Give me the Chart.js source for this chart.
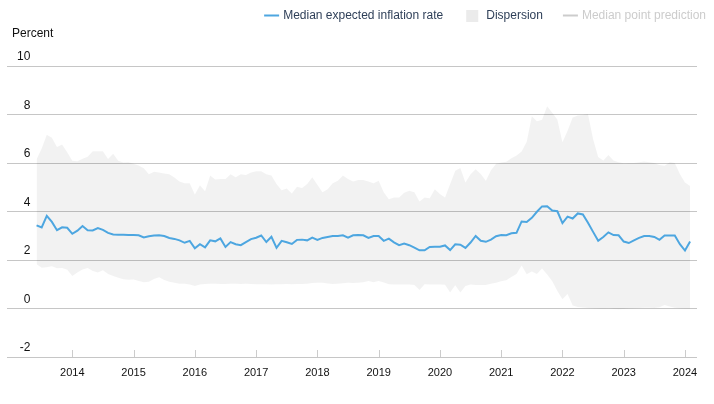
<!DOCTYPE html>
<html>
<head>
<meta charset="utf-8">
<script src="https://cdn.jsdelivr.net/npm/chart.js@4.4.1/dist/chart.umd.min.js"></script>
<style>
  html, body { margin: 0; padding: 0; background: #ffffff; }
  #wrap { width: 714px; height: 404px; }
</style>
</head>
<body>
<div id="wrap"><canvas id="chart" width="714" height="404"></canvas></div>
<script>
// ===== 数据：2013-06 起的月度序列 =====
const startYear = 2013;
const startMonth = 6;

// 中位数预期通胀率
const median = [
  3.43, 3.34, 3.82, 3.57, 3.23, 3.35, 3.33, 3.08, 3.21, 3.40,
  3.23, 3.22, 3.32, 3.24, 3.12, 3.05, 3.04, 3.04, 3.03, 3.03,
  3.02, 2.93, 2.98, 3.01, 3.02, 2.99, 2.91, 2.87, 2.81, 2.71,
  2.79, 2.48, 2.65, 2.52, 2.81, 2.77, 2.89, 2.54, 2.74, 2.65,
  2.61, 2.74, 2.86, 2.92, 3.01, 2.74, 2.96, 2.50, 2.79, 2.73,
  2.66, 2.83, 2.84, 2.81, 2.92, 2.83, 2.91, 2.95, 2.99, 2.99,
  3.02, 2.92, 3.02, 3.03, 3.02, 2.91, 2.99, 2.99, 2.79, 2.88,
  2.73, 2.61, 2.68, 2.61, 2.51, 2.40, 2.40, 2.54, 2.55, 2.55,
  2.60, 2.41, 2.65, 2.63, 2.50, 2.72, 2.99, 2.79, 2.75, 2.84,
  2.98, 3.03, 3.02, 3.10, 3.12, 3.59, 3.57, 3.74, 3.99, 4.21,
  4.22, 4.04, 4.01, 3.52, 3.79, 3.71, 3.92, 3.88, 3.54, 3.16,
  2.79, 2.95, 3.14, 3.03, 3.02, 2.76, 2.70, 2.81, 2.91, 2.99,
  2.99, 2.95, 2.83, 3.01, 3.01, 3.01, 2.65, 2.39, 2.76
];

// 分歧区间：上沿 / 下沿
const dispHigh = [
  6.15, 6.60, 7.17, 7.04, 6.66, 6.76, 6.44, 6.09, 6.07, 6.18,
  6.26, 6.48, 6.48, 6.48, 6.16, 6.38, 6.09, 6.02, 6.03, 5.97,
  5.90, 5.78, 5.54, 5.64, 5.61, 5.57, 5.54, 5.40, 5.24, 5.16,
  5.16, 4.70, 5.08, 4.84, 5.48, 5.32, 5.34, 5.34, 5.54, 5.41,
  5.54, 5.51, 5.61, 5.66, 5.66, 5.54, 5.48, 5.13, 4.88, 4.95,
  4.74, 5.02, 4.97, 5.13, 5.41, 5.10, 4.79, 4.92, 5.16, 5.27,
  5.48, 5.34, 5.24, 5.30, 5.30, 5.24, 5.16, 5.27, 4.79, 4.51,
  4.58, 4.58, 4.77, 4.86, 4.79, 4.41, 4.58, 4.55, 4.92, 4.72,
  4.58, 5.13, 5.68, 5.79, 5.20, 5.54, 5.74, 5.55, 5.27, 5.70,
  5.97, 6.02, 6.05, 6.20, 6.31, 6.47, 6.88, 7.93, 7.72, 7.78,
  8.34, 8.07, 7.79, 6.86, 7.33, 7.88, 7.96, 7.98, 8.02, 6.99,
  6.25, 6.10, 6.33, 6.10, 6.03, 5.99, 6.00, 6.00, 6.03, 6.06,
  6.03, 6.00, 5.92, 5.89, 6.03, 6.00, 5.55, 5.20, 5.05
];

const dispLow = [
  1.82, 1.68, 1.70, 1.74, 1.66, 1.67, 1.60, 1.34, 1.48, 1.61,
  1.67, 1.55, 1.48, 1.58, 1.42, 1.34, 1.27, 1.21, 1.19, 1.20,
  1.13, 1.08, 1.10, 1.22, 1.29, 1.18, 1.10, 1.06, 1.02, 1.02,
  0.99, 0.93, 0.99, 1.01, 1.02, 1.02, 1.01, 1.01, 1.02, 1.02,
  1.01, 1.02, 1.01, 1.00, 1.00, 1.00, 0.99, 1.00, 1.00, 1.01,
  1.00, 1.01, 1.01, 1.02, 1.05, 1.06, 1.06, 1.03, 1.01, 1.02,
  1.04, 1.06, 1.05, 1.06, 1.08, 1.13, 1.08, 1.13, 1.07, 1.00,
  0.99, 0.99, 0.99, 0.99, 0.97, 0.76, 1.00, 0.99, 0.99, 0.99,
  0.98, 0.66, 0.96, 0.66, 0.93, 0.99, 0.97, 0.97, 0.97, 1.02,
  1.06, 1.12, 1.17, 1.30, 1.42, 1.77, 1.41, 1.53, 1.42, 1.65,
  1.40, 1.12, 0.72, 0.38, 0.60, 0.12, 0.06, 0.04, 0.02, 0.01,
  0.00, -0.01, 0.00, -0.02, -0.03, -0.02, 0.00, 0.01, 0.02, 0.03,
  0.03, 0.02, 0.05, 0.14, 0.08, 0.03, 0.01, 0.00, 0.00
];

// 坐标轴刻度
const yearTicks = [2014, 2015, 2016, 2017, 2018, 2019, 2020, 2021, 2022, 2023, 2024];
const yTicks = [-2, 0, 2, 4, 6, 8, 10];

// 月份标签 -> 小数年份
const monthLabels = median.map((_, i) => {
    const m0 = startMonth - 1 + i;
    const y = startYear + Math.floor(m0 / 12);
    const m = (m0 % 12) + 1;
    return `${y}-${String(m).padStart(2, '0')}`;
});
const monthPos = monthLabels.map(s => {
    const [y, m] = s.split('-').map(Number);
    return y + (m - 1) / 12;
});
const toPoints = arr => arr.map((v, i) => ({ x: monthPos[i], y: v }));

const FONT = '"Liberation Sans", Arial, sans-serif';
const LINE_BLUE = '#4da6e0';

// 顶部图例 + "Percent" + x 轴小刻度
const decorPlugin = {
    id: 'decor',
    afterDraw(chart) {
        const ctx = chart.ctx;
        const area = chart.chartArea;
        ctx.save();

        // x 轴刻度线（朝上）
        const xs = chart.scales.x;
        ctx.strokeStyle = '#cccccc';
        ctx.lineWidth = 1;
        xs.ticks.forEach(t => {
            const px = Math.round(xs.getPixelForValue(t.value)) + 0.5;
            ctx.beginPath();
            ctx.moveTo(px, area.bottom - 7);
            ctx.lineTo(px, area.bottom);
            ctx.stroke();
        });

        // 单位
        ctx.font = `12px ${FONT}`;
        ctx.textBaseline = 'middle';
        ctx.fillStyle = '#111111';
        ctx.fillText('Percent', 12, 34);

        // 图例（右对齐）
        const items = chart.data.datasets.filter(d => d.legendShape);
        let x = 706;
        const y = 15.5;
        for (let i = items.length - 1; i >= 0; i--) {
            const d = items[i];
            const w = ctx.measureText(d.label).width;
            x -= w;
            ctx.fillStyle = d.hidden ? '#cccccc' : '#2e3f58';
            ctx.fillText(d.label, x, y);
            if (d.legendShape === 'rect') {
                x -= 8 + 12;
                ctx.fillStyle = '#ebebeb';
                ctx.fillRect(x, Math.round(y - 6), 12, 12);
            } else {
                x -= 4 + 15;
                ctx.strokeStyle = d.hidden ? '#cccccc' : d.borderColor;
                ctx.lineWidth = 2;
                ctx.beginPath();
                ctx.moveTo(x, y);
                ctx.lineTo(x + 15, y);
                ctx.stroke();
            }
            x -= (i === 2 ? 20 : 23);
        }
        ctx.restore();
    }
};

const chart = new Chart(document.getElementById('chart').getContext('2d'), {
    type: 'line',
    data: {
        datasets: [
            {
                label: 'Median expected inflation rate',
                legendShape: 'line',
                data: toPoints(median),
                borderColor: LINE_BLUE,
                borderWidth: 2,
                pointRadius: 0,
                tension: 0,
                fill: false
            },
            {
                label: 'Dispersion',
                legendShape: 'rect',
                data: toPoints(dispHigh),
                borderColor: 'rgba(0,0,0,0)',
                borderWidth: 0,
                pointRadius: 0,
                backgroundColor: 'rgba(0,0,0,0.05)',
                fill: '+1'
            },
            {
                label: 'Dispersion low',
                data: toPoints(dispLow),
                borderColor: 'rgba(0,0,0,0)',
                borderWidth: 0,
                pointRadius: 0,
                fill: false
            },
            {
                label: 'Median point prediction',
                legendShape: 'line',
                data: [],
                hidden: true,
                borderColor: '#cccccc',
                borderWidth: 2,
                pointRadius: 0
            }
        ]
    },
    options: {
        responsive: false,
        animation: false,
        devicePixelRatio: 1,
        layout: { padding: { top: 66, left: 7, right: 17, bottom: 0 } },
        plugins: {
            legend: { display: false },
            tooltip: { enabled: false }
        },
        scales: {
            x: {
                type: 'linear',
                min: 2012.934,
                max: 2024.196,
                grid: { display: false },
                border: { display: false },
                afterBuildTicks: scale => {
                    scale.ticks = yearTicks.map(v => ({ value: v }));
                },
                afterFit: scale => { scale.height = 47; },
                ticks: {
                    padding: 1,
                    maxRotation: 0,
                    autoSkip: false,
                    color: '#111111',
                    font: { family: FONT, size: 11 },
                    callback: v => String(v)
                }
            },
            y: {
                min: -2,
                max: 10,
                afterBuildTicks: scale => {
                    scale.ticks = yTicks.map(v => ({ value: v }));
                },
                afterFit: scale => { scale.width = 0; },
                grid: { color: '#c6c6c6', lineWidth: 1, drawTicks: false },
                border: { display: false },
                ticks: {
                    mirror: true,
                    crossAlign: 'far',
                    padding: 10,
                    labelOffset: -9,
                    color: '#111111',
                    font: { family: FONT, size: 12 }
                }
            }
        }
    },
    plugins: [decorPlugin]
});
</script>
</body>
</html>
